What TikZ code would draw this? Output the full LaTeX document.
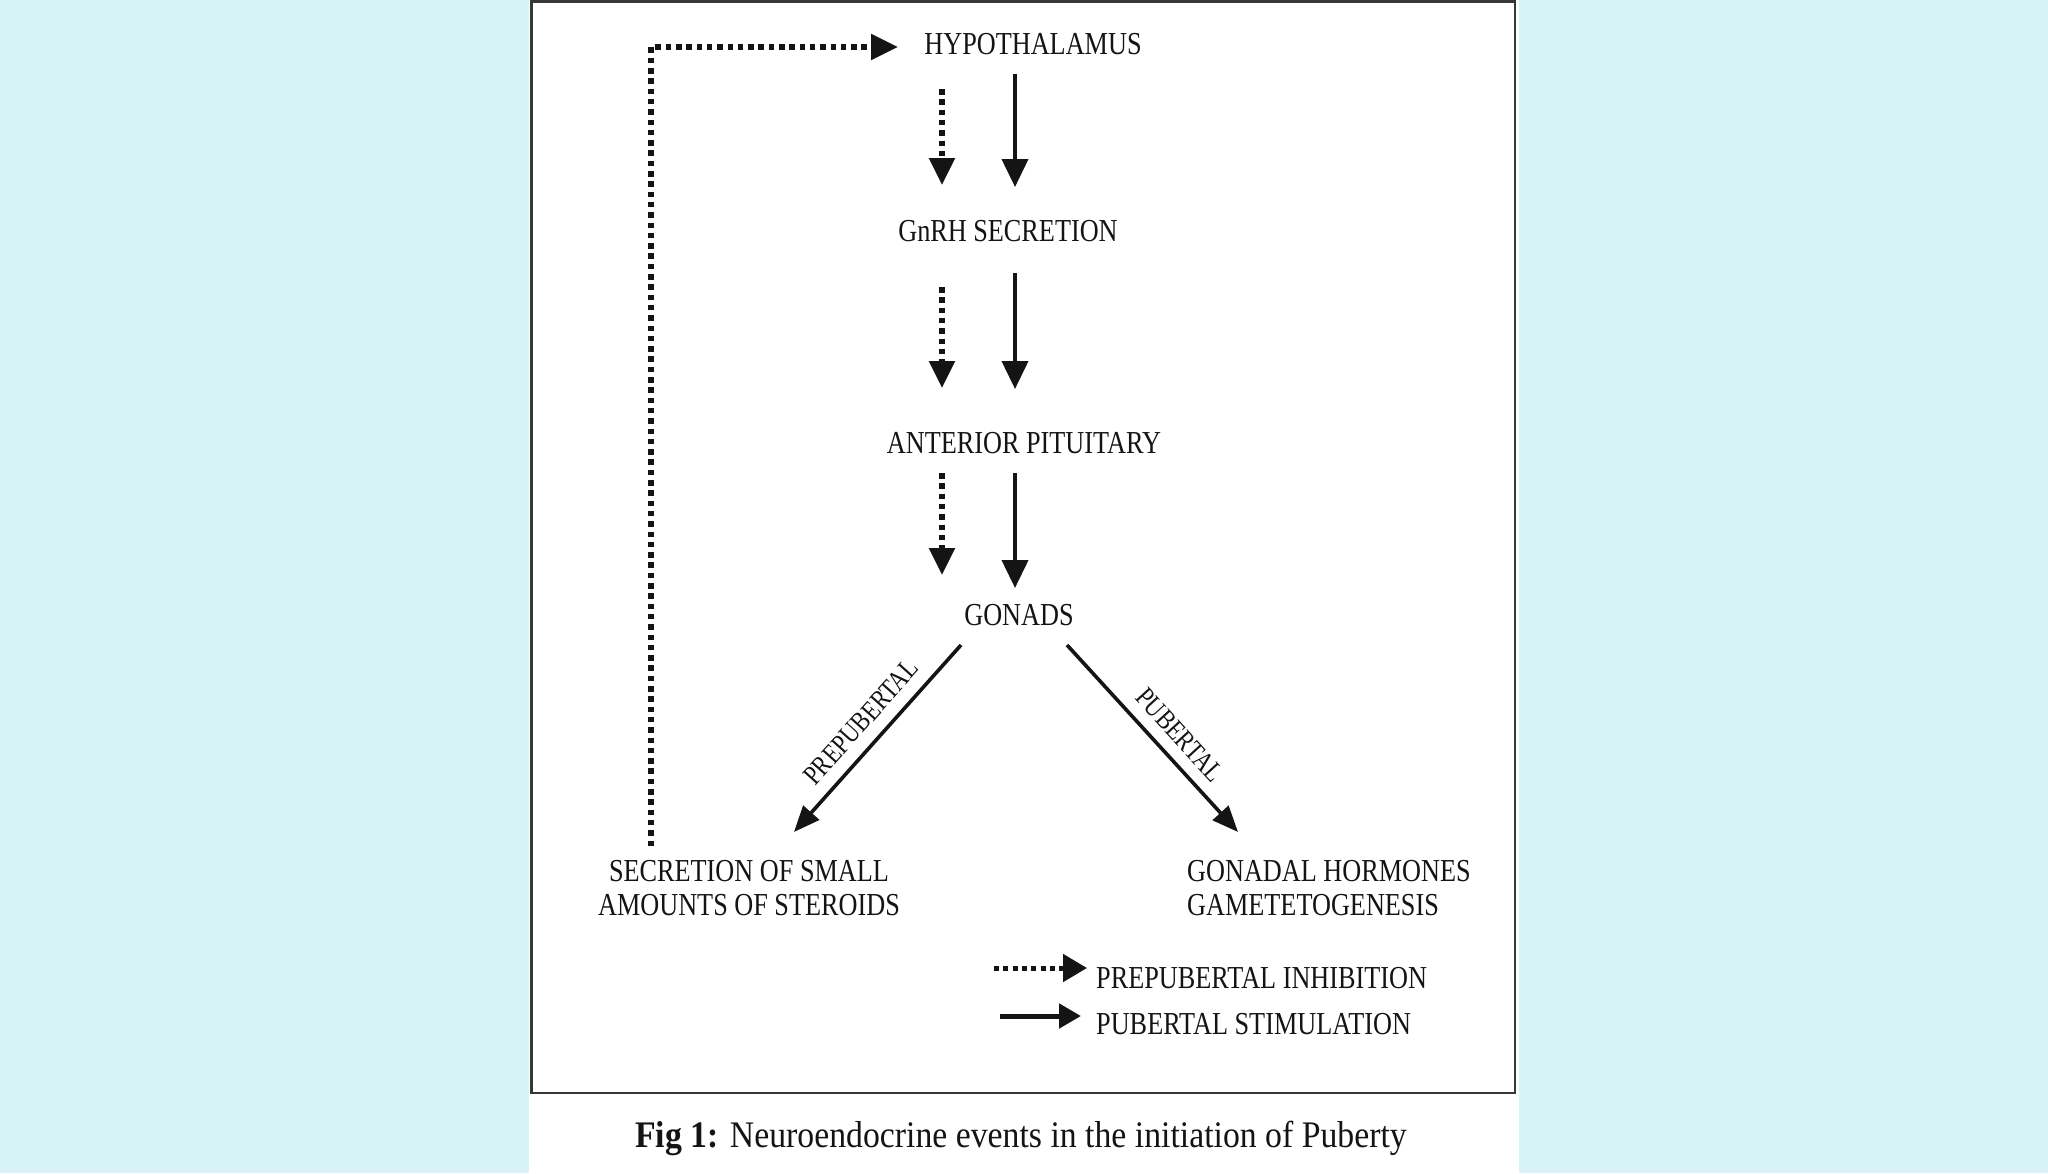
\documentclass[tikz,border=0pt]{standalone}
\usepackage{fontspec}
\setmainfont{Liberation Serif}
\newfontfamily\diagfont{Liberation Serif}[FakeStretch=0.82]
\newfontfamily\capfont{Liberation Serif}[FakeStretch=0.9]
\usetikzlibrary{arrows.meta}
\definecolor{bgcyan}{RGB}{216,243,248}
\definecolor{ink}{RGB}{20,20,20}
\begin{document}
\begin{tikzpicture}[x=1pt,y=-1pt,
  lab/.style={inner sep=0pt, text=ink, font=\diagfont\fontsize{32}{34}\selectfont},
  slab/.style={inner sep=0pt, text=ink, font=\diagfont\fontsize{28}{30}\selectfont},
  solidarrow/.style={draw=ink, line width=4pt, -{Triangle[length=28pt,width=26pt]}},
  dotarrow/.style={draw=ink, line width=5.5pt, dash pattern=on 5.5pt off 4.8pt, -{Triangle[length=27pt,width=25pt]}},
  diagarrow/.style={draw=ink, line width=3.6pt, -{Triangle[length=26pt,width=21pt]}},
  legdot/.style={draw=ink, line width=5pt, dash pattern=on 5pt off 4.3pt, -{Triangle[length=24pt,width=27pt]}},
  legsolid/.style={draw=ink, line width=5pt, -{Triangle[length=22pt,width=24pt]}}
]
\useasboundingbox (0,0) rectangle (2048,1173);
\fill[bgcyan] (0,0) rectangle (2048,1173);
\fill[white] (529,0) rectangle (1519,1173);
\draw[ink!85, line width=2.5pt] (531.6,1.3) rectangle (1515,1093);

% nodes
\node[lab] (hyp) at (1033,44) {HYPOTHALAMUS};
\node[lab] (gnrh) at (1008,231) {GnRH SECRETION};
\node[lab] (ap) at (1024,443) {ANTERIOR PITUITARY};
\node[lab] (gon) at (1019,615) {GONADS};
\node[lab, align=center] (sec) at (749,888) {SECRETION OF SMALL\\AMOUNTS OF STEROIDS};
\node[lab, align=left, anchor=west] (ghor) at (1187,888) {GONADAL HORMONES\\GAMETETOGENESIS};
\node[slab, rotate=48.2] (prep) at (861,722) {PREPUBERTAL};
\node[slab, rotate=-47.6] (pub) at (1180,735) {PUBERTAL};
\node[lab, anchor=west] (leg1) at (1096,978) {PREPUBERTAL INHIBITION};
\node[lab, anchor=west] (leg2) at (1096,1024) {PUBERTAL STIMULATION};
\node[inner sep=0pt, text=ink, font=\capfont\fontsize{37.5}{40}\selectfont, anchor=base] (cap) at (1021,1147) {\textbf{Fig 1:} Neuroendocrine events in the initiation of Puberty};

% coordinates for arrow ends
\coordinate (fbs) at (651,846);
\coordinate (fbt) at (898,47);
\coordinate (d1a) at (942,89);  \coordinate (d1b) at (942,185);
\coordinate (s1a) at (1015,74); \coordinate (s1b) at (1015,187);
\coordinate (d2a) at (942,287); \coordinate (d2b) at (942,388);
\coordinate (s2a) at (1015,273);\coordinate (s2b) at (1015,389);
\coordinate (d3a) at (942,473); \coordinate (d3b) at (942,575);
\coordinate (s3a) at (1015,473);\coordinate (s3b) at (1015,588);
\coordinate (la) at (961,645);  \coordinate (lb) at (794,832);
\coordinate (ra) at (1067,645); \coordinate (rb) at (1238,832);
\coordinate (l1a) at (994,968); \coordinate (l1b) at (1087,968);
\coordinate (l2a) at (1000,1016); \coordinate (l2b) at (1081,1016);

% connectors
\draw[dotarrow] (fbs) |- (fbt);
\draw[dotarrow] (d1a) -- (d1b);
\draw[solidarrow] (s1a) -- (s1b);
\draw[dotarrow] (d2a) -- (d2b);
\draw[solidarrow] (s2a) -- (s2b);
\draw[dotarrow] (d3a) -- (d3b);
\draw[solidarrow] (s3a) -- (s3b);
\draw[diagarrow] (la) -- (lb);
\draw[diagarrow] (ra) -- (rb);
\draw[legdot] (l1a) -- (l1b);
\draw[legsolid] (l2a) -- (l2b);
\end{tikzpicture}
\end{document}
